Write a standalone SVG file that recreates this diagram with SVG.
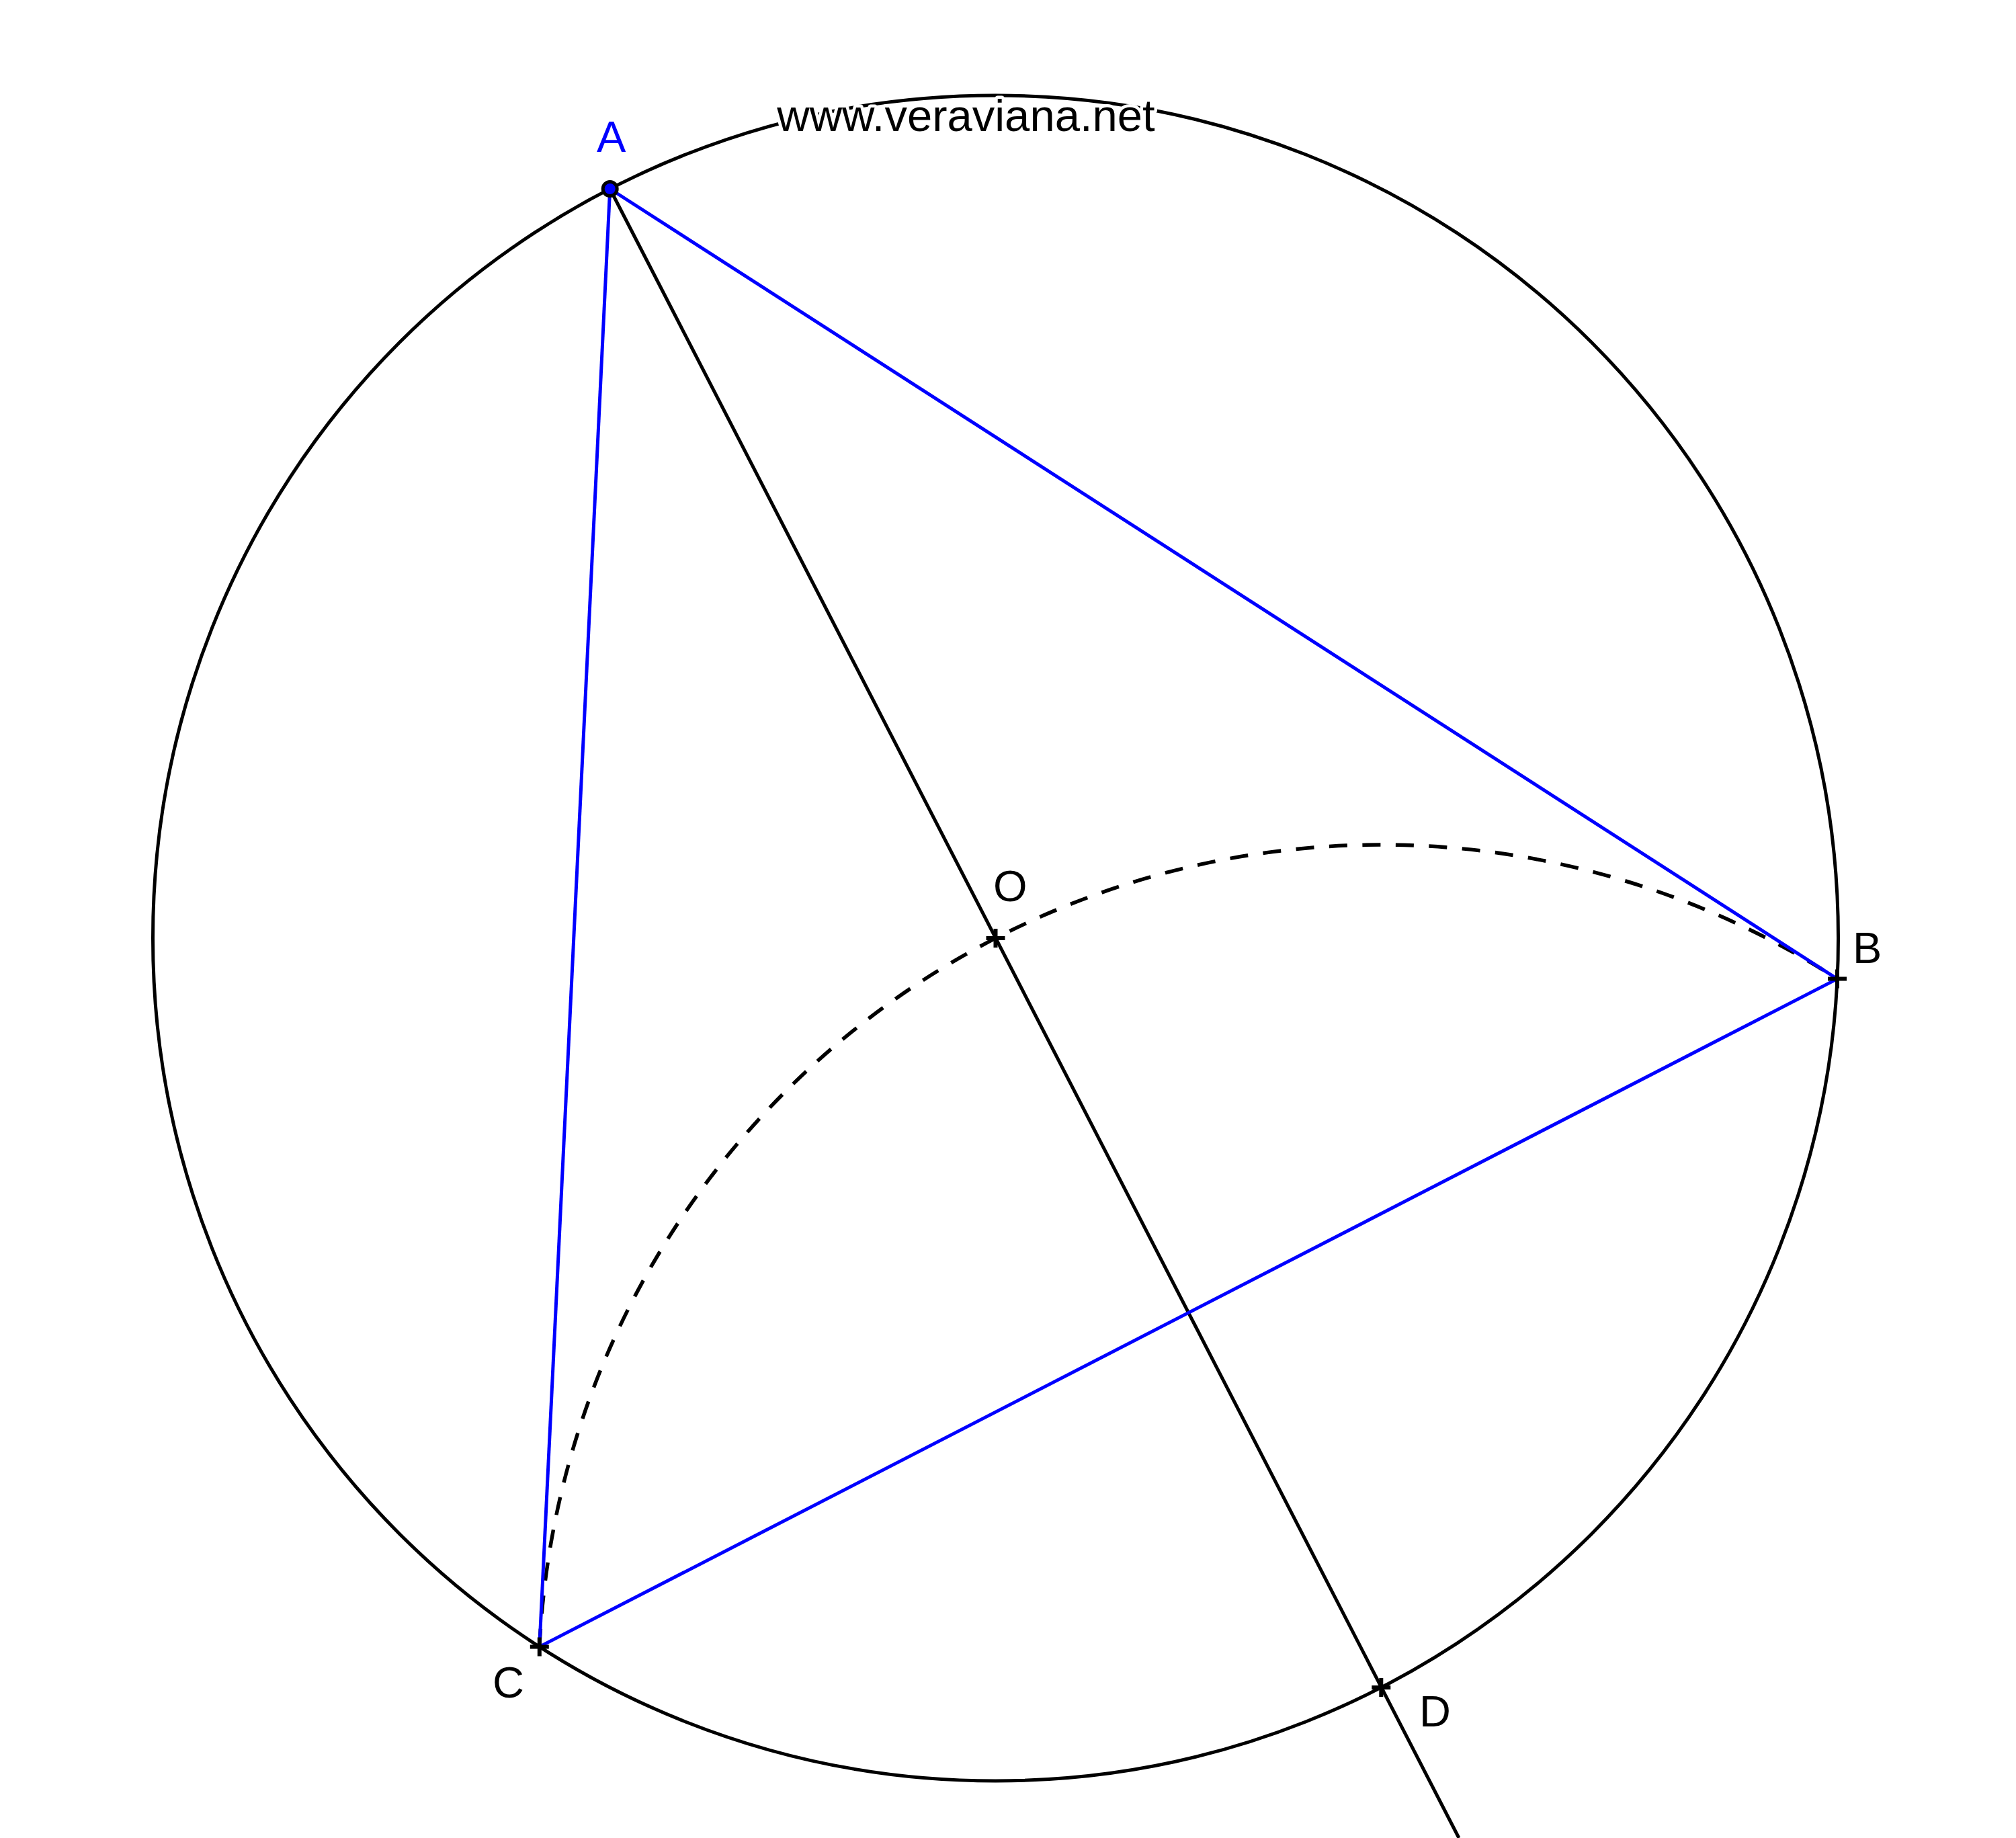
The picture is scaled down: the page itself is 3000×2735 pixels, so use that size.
<svg xmlns="http://www.w3.org/2000/svg" width="3000" height="2735" viewBox="0 0 3000 2735">
<style>
.blk{fill:none;stroke:#000;stroke-width:5}
.blue{fill:none;stroke:#0000ff;stroke-width:5}
.dash{fill:none;stroke:#000;stroke-width:5.5;stroke-dasharray:27 22.5}
.cross{fill:none;stroke:#000;stroke-width:6}
.lbl{font-family:"Liberation Sans",Arial,sans-serif;font-size:65px;fill:#000}
.wm{font-family:"Liberation Sans",Arial,sans-serif;font-size:67px;fill:#000;stroke:#fff;stroke-width:9;paint-order:stroke;stroke-linejoin:round}
</style>
<defs>
<path id="x" d="M-14 0H14M0 -14V14" class="cross"/>
</defs>
<rect width="3000" height="2735" fill="#fff"/>
<g id="connectors">
<circle id="circle" cx="1481.5" cy="1396" r="1254" class="blk"/>
<path id="arc" d="M802.8 2450.4 A1254 1254 0 0 1 2734 1456.6" class="dash"/>
<line id="line-AD" x1="907.7" y1="281" x2="2171" y2="2735" class="blk"/>
<line id="AB" x1="907.7" y1="281" x2="2734" y2="1456.6" class="blue"/>
<line id="AC" x1="907.7" y1="281" x2="802.8" y2="2450.4" class="blue"/>
<line id="BC" x1="2734" y1="1456.6" x2="802.8" y2="2450.4" class="blue"/>
</g>
<g id="node-A">
<circle cx="907.7" cy="281" r="10.5" fill="#0000ff" stroke="#000" stroke-width="5"/>
<text x="888" y="226" class="lbl" style="fill:#0000ff">A</text>
</g>
<g id="node-O">
<use href="#x" x="1481.5" y="1396"/>
<text x="1478" y="1341" class="lbl">O</text>
</g>
<g id="node-B">
<use href="#x" x="2734" y="1456.6"/>
<text x="2757" y="1433" class="lbl">B</text>
</g>
<g id="node-C">
<use href="#x" x="802.8" y="2450.4"/>
<text x="733" y="2526" class="lbl">C</text>
</g>
<g id="node-D">
<use href="#x" x="2055.3" y="2511"/>
<text x="2112" y="2569" class="lbl">D</text>
</g>
<g id="watermark">
<text x="1437.5" y="195" text-anchor="middle" class="wm">www.veraviana.net</text>
</g>
</svg>
